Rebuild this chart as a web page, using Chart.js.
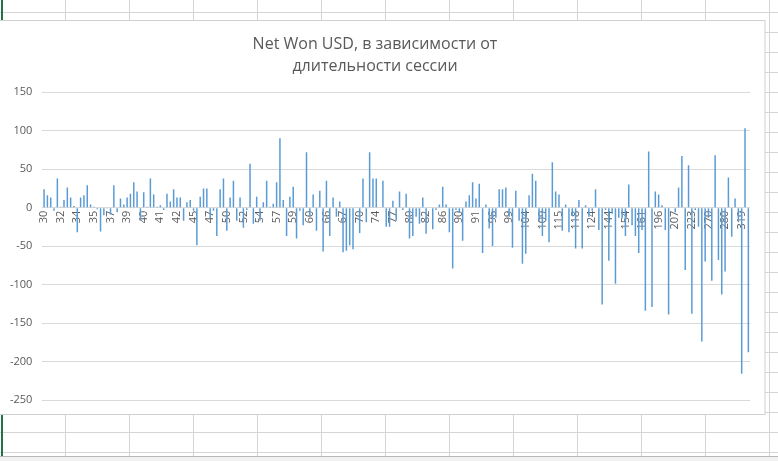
<!DOCTYPE html>
<html>
<head>
<meta charset="utf-8">
<script src="https://cdn.jsdelivr.net/npm/chart.js@4"></script>
<style>
    html, body { margin: 0; padding: 0; background: #fff; }
    #wrap { width: 778px; height: 461px; }
</style>
</head>
<body>
<div id="wrap"><canvas id="netWonChart" width="778" height="461"></canvas></div>
<script>
// Session length (categories, every 5th is shown on the axis)
const sessionLength = [
    30, 30, 30, 31, 31,  32, 32, 33, 33, 33,  34, 34, 34, 34, 35,  35, 35, 36, 36, 36,
    37, 37, 38, 38, 38,  39, 39, 39, 39, 39,  40, 40, 40, 40, 40,  41, 41, 41, 41, 41,
    42, 42, 43, 43, 44,  45, 45, 46, 46, 46,  47, 48, 48, 49, 49,  50, 50, 51, 51, 51,
    52, 52, 53, 53, 53,  54, 55, 55, 56, 56,  57, 57, 58, 58, 58,  59, 59, 59, 59, 59,
    60, 61, 62, 63, 64,  66, 66, 66, 66, 66,  67, 68, 68, 69, 69,  70, 71, 72, 72, 73,
    74, 75, 75, 76, 76,  77, 78, 78, 79, 79,  80, 80, 81, 81, 81,  82, 83, 84, 85, 85,
    86, 87, 88, 89, 89,  90, 90, 90, 90, 90,  91, 92, 93, 94, 95,  96, 97, 97, 98, 98,
    99, 100, 101, 102, 103,  104, 105, 106, 107, 108,  109, 110, 112, 113, 114,  115, 116, 116, 117, 117,
    118, 119, 120, 122, 123,  124, 127, 130, 135, 140,  144, 146, 148, 150, 152,  154, 156, 157, 158, 160,
    161, 165, 172, 180, 188,  196, 199, 201, 204, 205,  207, 210, 214, 218, 220,  223, 230, 240, 252, 262,
    270, 272, 275, 276, 278,  280, 288, 295, 303, 311,  319, 335, 360
];

// Net Won USD per session
const netWon = [
    24, 16, 13, -4, 38,  1, 10, 26, 13, 2,  -32, 13, 16, 29, 4,  1, -2, -31, -10, -1,
    -9, 29, -6, 12, 4,  13, 18, 33, 21, -17,  20, 1, 38, 17, 1,  3, -3, 18, 8, 24,
    13, 13, -17, 7, 10,  -4, -49, 14, 25, 25,  -13, -4, -37, 24, 38,  -30, 13, 35, -17, 13,
    -26, -3, 57, -21, 14,  -17, 7, 35, 1, 5,  33, 90, 10, -37, 14,  27, -40, -4, -23, 72,
    -12, 17, -30, 22, -57,  35, -37, 13, -12, 8,  -58, -56, -49, -54, 0,  -33, 38, -19, 72, 38,
    38, 0, 35, -25, -25,  9, -17, 21, -3, 18,  -40, -37, -12, -21, 13,  -34, 0, -28, -3, 4,
    27, 4, -32, -79, -3,  -7, -43, 8, 16, 33,  12, 31, -59, 4, -27,  -50, -13, 24, 24, 26,
    -12, -52, 22, -17, -73,  -60, 16, 44, 35, -17,  -37, -17, -45, 59, 21,  17, -30, 4, -32, -11,
    -53, 10, -53, 3, -12,  -4, 24, -29, -126, -3,  -69, -8, -99, -13, -14,  -37, 30, -23, -37, -59,
    -29, -134, 73, -129, 21,  17, 3, -29, -139, 0,  -6, 26, 67, -81, 55,  -138, -3, -25, -174, -70,
    -13, -95, 68, -68, -113,  -83, 39, -38, 12, -17,  -216, 103, -188
];

const yTicks = [150, 100, 50, 0, -50, -100, -150, -200, -250];
const titleLines = ['Net Won USD, в зависимости от', 'длительности сессии'];

const textColor = '#595959';
const fontFamily = '"Open Sans", "Noto Sans", sans-serif';

// Spreadsheet grid behind the chart, like the Excel screenshot
const sheetBackground = {
    id: 'sheetBackground',
    beforeDraw(chart) {
        const ctx = chart.ctx;
        const w = chart.width, h = chart.height;
        ctx.save();
        ctx.fillStyle = '#ffffff';
        ctx.fillRect(0, 0, w, h);

        ctx.strokeStyle = '#d4d4d4';
        ctx.lineWidth = 1;
        ctx.beginPath();
        for (let x = 65.5; x < w; x += 64) {
            ctx.moveTo(x, 0);
            ctx.lineTo(x, 456);
        }
        for (let y = 12.5; y < 456; y += 20) {
            ctx.moveTo(0, y);
            ctx.lineTo(w, y);
        }
        ctx.stroke();

        // chart box
        ctx.fillStyle = '#ffffff';
        ctx.fillRect(-2, 20, 767, 395);
        ctx.strokeStyle = '#d0d0d0';
        ctx.strokeRect(-2.5, 20.5, 767.5, 394);

        // selected column marker
        ctx.fillStyle = '#217346';
        ctx.fillRect(1, 0, 2, 20);
        ctx.fillRect(1, 415, 2, 41);

        // bottom bar
        ctx.fillStyle = '#f2f2f2';
        ctx.fillRect(0, 456, w, h - 456);
        ctx.strokeStyle = '#b8b8b8';
        ctx.beginPath();
        ctx.moveTo(0, 456.5);
        ctx.lineTo(w, 456.5);
        ctx.stroke();
        ctx.restore();
    }
};

new Chart(document.getElementById('netWonChart'), {
    type: 'bar',
    data: {
        labels: sessionLength,
        datasets: [{
            label: 'Net Won USD',
            data: netWon,
            backgroundColor: '#5b9bd5',
            borderWidth: 0,
            barPercentage: 0.45,
            categoryPercentage: 1
        }]
    },
    options: {
        responsive: false,
        animation: false,
        devicePixelRatio: 1,
        layout: {
            padding: { left: 0, right: 28, top: 0, bottom: 61 }
        },
        plugins: {
            legend: { display: false },
            tooltip: { enabled: false },
            title: {
                display: true,
                text: titleLines,
                color: textColor,
                font: { family: fontFamily, size: 16, weight: 'normal', lineHeight: 1.35 },
                padding: { top: 34, bottom: 15 }
            }
        },
        scales: {
            x: {
                position: { y: 0 },
                afterFit: function(scale) { scale.height = 0; },
                grid: { display: false, drawTicks: false },
                border: { display: false },
                ticks: {
                    autoSkip: false,
                    minRotation: 90,
                    maxRotation: 90,
                    padding: 3,
                    color: textColor,
                    font: { family: fontFamily, size: 11 },
                    callback: function(value, index) {
                        return index % 5 === 0 ? String(sessionLength[index]) : '';
                    }
                }
            },
            y: {
                min: -250,
                max: 150,
                afterBuildTicks: function(scale) {
                    scale.ticks = yTicks.map(v => ({ value: v }));
                },
                grid: { color: '#d9d9d9', drawTicks: false },
                border: { display: false },
                ticks: {
                    padding: 10,
                    color: textColor,
                    font: { family: fontFamily, size: 11 }
                }
            }
        }
    },
    plugins: [sheetBackground]
});
</script>
</body>
</html>
